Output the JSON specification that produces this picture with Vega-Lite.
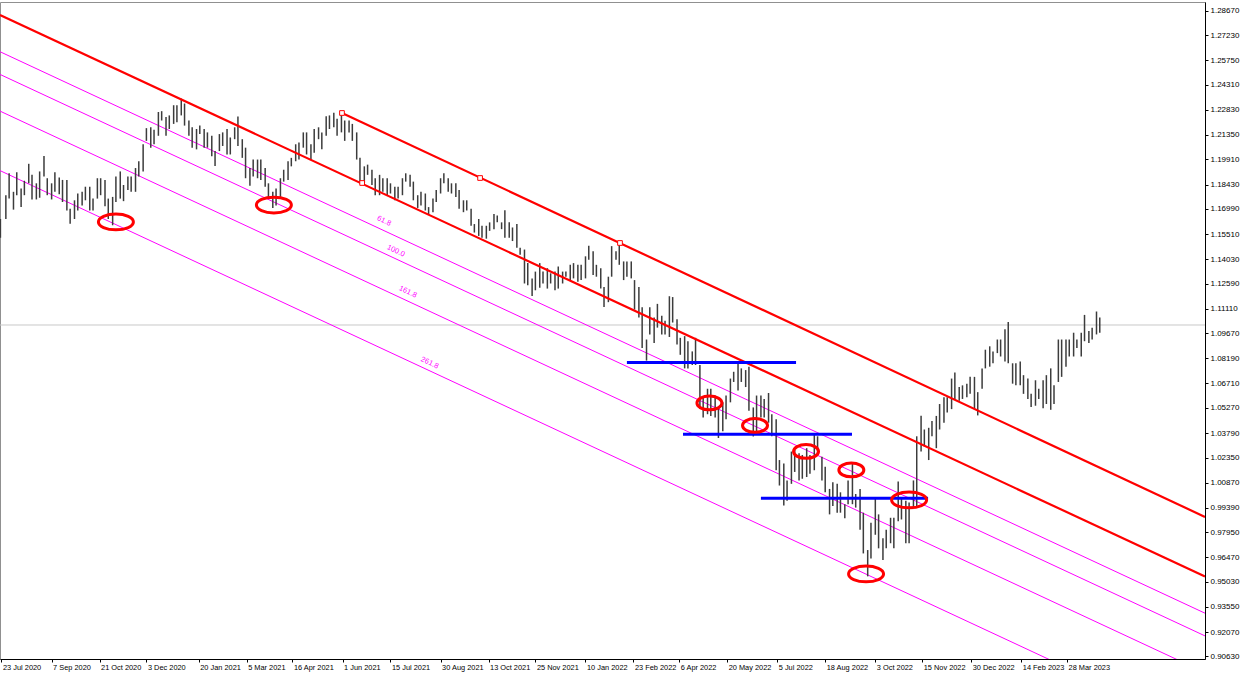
{
"$schema": "https://vega.github.io/schema/vega-lite/v6.json",
"width": 1205, "height": 657,
"autosize": {"type": "none"},
"padding": {"left": 0, "top": 2, "right": 35, "bottom": 17},
"background": "white",
"config": {"view": {"stroke": "#909090", "strokeWidth": 1}, "font": "Liberation Sans"},
"datasets": {
"bars": [
{"t":"2020-07-22","p":1.1530,"p2":1.1640},{"t":"2020-07-27","p":1.1640,"p2":1.1780},{"t":"2020-07-30","p":1.1760,"p2":1.1910},
{"t":"2020-08-03","p":1.1695,"p2":1.1800},{"t":"2020-08-06","p":1.1780,"p2":1.1915},{"t":"2020-08-10","p":1.1710,"p2":1.1820},
{"t":"2020-08-13","p":1.1780,"p2":1.1865},{"t":"2020-08-17","p":1.1850,"p2":1.1965},{"t":"2020-08-20","p":1.1755,"p2":1.1900},
{"t":"2020-08-24","p":1.1755,"p2":1.1850},{"t":"2020-08-27","p":1.1765,"p2":1.1920},{"t":"2020-08-31","p":1.1890,"p2":1.2011},
{"t":"2020-09-03","p":1.1780,"p2":1.1880},{"t":"2020-09-07","p":1.1755,"p2":1.1850},{"t":"2020-09-10","p":1.1800,"p2":1.1915},
{"t":"2020-09-14","p":1.1785,"p2":1.1885},{"t":"2020-09-17","p":1.1740,"p2":1.1870},{"t":"2020-09-21","p":1.1690,"p2":1.1870},
{"t":"2020-09-24","p":1.1612,"p2":1.1700},{"t":"2020-09-28","p":1.1640,"p2":1.1750},{"t":"2020-10-01","p":1.1690,"p2":1.1790},
{"t":"2020-10-05","p":1.1720,"p2":1.1800},{"t":"2020-10-08","p":1.1750,"p2":1.1830},{"t":"2020-10-12","p":1.1690,"p2":1.1830},
{"t":"2020-10-15","p":1.1690,"p2":1.1760},{"t":"2020-10-19","p":1.1760,"p2":1.1880},{"t":"2020-10-22","p":1.1780,"p2":1.1880},
{"t":"2020-10-26","p":1.1715,"p2":1.1870},{"t":"2020-10-29","p":1.1640,"p2":1.1760},{"t":"2020-11-02","p":1.1603,"p2":1.1770},
{"t":"2020-11-05","p":1.1740,"p2":1.1890},{"t":"2020-11-09","p":1.1760,"p2":1.1920},{"t":"2020-11-12","p":1.1745,"p2":1.1840},
{"t":"2020-11-16","p":1.1810,"p2":1.1890},{"t":"2020-11-19","p":1.1800,"p2":1.1890},{"t":"2020-11-23","p":1.1800,"p2":1.1940},
{"t":"2020-11-26","p":1.1890,"p2":1.1980},{"t":"2020-11-30","p":1.1920,"p2":1.2080},{"t":"2020-12-03","p":1.2100,"p2":1.2175},
{"t":"2020-12-07","p":1.2060,"p2":1.2180},{"t":"2020-12-10","p":1.2080,"p2":1.2165},{"t":"2020-12-14","p":1.2130,"p2":1.2270},
{"t":"2020-12-17","p":1.2220,"p2":1.2275},{"t":"2020-12-21","p":1.2130,"p2":1.2240},{"t":"2020-12-24","p":1.2170,"p2":1.2250},
{"t":"2020-12-28","p":1.2200,"p2":1.2310},{"t":"2020-12-31","p":1.2210,"p2":1.2310},
{"t":"2021-01-04","p":1.2250,"p2":1.2349},{"t":"2021-01-07","p":1.2190,"p2":1.2320},{"t":"2021-01-11","p":1.2130,"p2":1.2220},
{"t":"2021-01-14","p":1.2060,"p2":1.2180},{"t":"2021-01-18","p":1.2050,"p2":1.2170},{"t":"2021-01-21","p":1.2140,"p2":1.2190},
{"t":"2021-01-25","p":1.2060,"p2":1.2170},{"t":"2021-01-28","p":1.2060,"p2":1.2150},{"t":"2021-02-01","p":1.2010,"p2":1.2130},
{"t":"2021-02-04","p":1.1952,"p2":1.2040},{"t":"2021-02-08","p":1.2040,"p2":1.2140},{"t":"2021-02-11","p":1.2070,"p2":1.2150},
{"t":"2021-02-15","p":1.2020,"p2":1.2170},{"t":"2021-02-18","p":1.2020,"p2":1.2120},{"t":"2021-02-22","p":1.2110,"p2":1.2180},
{"t":"2021-02-25","p":1.2070,"p2":1.2243},{"t":"2021-03-01","p":1.2000,"p2":1.2110},{"t":"2021-03-04","p":1.1880,"p2":1.2060},
{"t":"2021-03-08","p":1.1835,"p2":1.1940},{"t":"2021-03-11","p":1.1890,"p2":1.1990},{"t":"2021-03-15","p":1.1880,"p2":1.1990},
{"t":"2021-03-18","p":1.1870,"p2":1.1990},{"t":"2021-03-22","p":1.1830,"p2":1.1940},{"t":"2021-03-25","p":1.1760,"p2":1.1850},
{"t":"2021-03-29","p":1.1704,"p2":1.1800},{"t":"2021-04-01","p":1.1720,"p2":1.1820},{"t":"2021-04-05","p":1.1760,"p2":1.1880},
{"t":"2021-04-08","p":1.1860,"p2":1.1930},{"t":"2021-04-12","p":1.1870,"p2":1.1980},{"t":"2021-04-15","p":1.1950,"p2":1.2000},
{"t":"2021-04-19","p":1.1980,"p2":1.2080},{"t":"2021-04-22","p":1.1990,"p2":1.2090},{"t":"2021-04-26","p":1.2060,"p2":1.2150},
{"t":"2021-04-29","p":1.2020,"p2":1.2150},{"t":"2021-05-03","p":1.1990,"p2":1.2080},{"t":"2021-05-06","p":1.2030,"p2":1.2170},
{"t":"2021-05-10","p":1.2110,"p2":1.2180},{"t":"2021-05-13","p":1.2050,"p2":1.2150},{"t":"2021-05-17","p":1.2130,"p2":1.2245},
{"t":"2021-05-20","p":1.2170,"p2":1.2250},{"t":"2021-05-24","p":1.2180,"p2":1.2266},{"t":"2021-05-27","p":1.2130,"p2":1.2230},
{"t":"2021-05-31","p":1.2150,"p2":1.2250},{"t":"2021-06-03","p":1.2100,"p2":1.2220},{"t":"2021-06-07","p":1.2150,"p2":1.2220},
{"t":"2021-06-10","p":1.2100,"p2":1.2200},{"t":"2021-06-14","p":1.1990,"p2":1.2150},{"t":"2021-06-17","p":1.1850,"p2":1.2000},
{"t":"2021-06-21","p":1.1850,"p2":1.1950},{"t":"2021-06-24","p":1.1900,"p2":1.1960},{"t":"2021-06-28","p":1.1840,"p2":1.1930},
{"t":"2021-07-01","p":1.1780,"p2":1.1880},{"t":"2021-07-05","p":1.1780,"p2":1.1900},{"t":"2021-07-08","p":1.1800,"p2":1.1880},
{"t":"2021-07-12","p":1.1780,"p2":1.1880},{"t":"2021-07-15","p":1.1790,"p2":1.1850},{"t":"2021-07-19","p":1.1750,"p2":1.1830},
{"t":"2021-07-22","p":1.1760,"p2":1.1830},{"t":"2021-07-26","p":1.1780,"p2":1.1880},{"t":"2021-07-29","p":1.1860,"p2":1.1909},
{"t":"2021-08-02","p":1.1830,"p2":1.1900},{"t":"2021-08-05","p":1.1750,"p2":1.1860},{"t":"2021-08-09","p":1.1705,"p2":1.1780},
{"t":"2021-08-12","p":1.1720,"p2":1.1800},{"t":"2021-08-16","p":1.1690,"p2":1.1790},{"t":"2021-08-19","p":1.1664,"p2":1.1710},
{"t":"2021-08-23","p":1.1680,"p2":1.1760},{"t":"2021-08-26","p":1.1740,"p2":1.1810},{"t":"2021-08-30","p":1.1790,"p2":1.1880},
{"t":"2021-09-02","p":1.1850,"p2":1.1909},{"t":"2021-09-06","p":1.1800,"p2":1.1880},{"t":"2021-09-09","p":1.1790,"p2":1.1850},
{"t":"2021-09-13","p":1.1770,"p2":1.1850},{"t":"2021-09-16","p":1.1700,"p2":1.1810},{"t":"2021-09-20","p":1.1680,"p2":1.1750},
{"t":"2021-09-23","p":1.1690,"p2":1.1750},{"t":"2021-09-27","p":1.1600,"p2":1.1700},{"t":"2021-09-30","p":1.1560,"p2":1.1610},
{"t":"2021-10-04","p":1.1540,"p2":1.1640},{"t":"2021-10-07","p":1.1530,"p2":1.1600},{"t":"2021-10-11","p":1.1524,"p2":1.1600},
{"t":"2021-10-14","p":1.1570,"p2":1.1620},{"t":"2021-10-18","p":1.1580,"p2":1.1670},{"t":"2021-10-21","p":1.1620,"p2":1.1660},
{"t":"2021-10-25","p":1.1580,"p2":1.1620},{"t":"2021-10-28","p":1.1530,"p2":1.1692},{"t":"2021-11-01","p":1.1530,"p2":1.1620},
{"t":"2021-11-04","p":1.1510,"p2":1.1590},{"t":"2021-11-08","p":1.1470,"p2":1.1610},{"t":"2021-11-11","p":1.1430,"p2":1.1470},
{"t":"2021-11-15","p":1.1260,"p2":1.1460},{"t":"2021-11-18","p":1.1250,"p2":1.1380},{"t":"2021-11-22","p":1.1186,"p2":1.1290},
{"t":"2021-11-25","p":1.1220,"p2":1.1330},{"t":"2021-11-29","p":1.1235,"p2":1.1380},{"t":"2021-12-02","p":1.1260,"p2":1.1330},
{"t":"2021-12-06","p":1.1230,"p2":1.1350},{"t":"2021-12-09","p":1.1260,"p2":1.1320},{"t":"2021-12-13","p":1.1220,"p2":1.1330},
{"t":"2021-12-16","p":1.1230,"p2":1.1360},{"t":"2021-12-20","p":1.1260,"p2":1.1330},{"t":"2021-12-23","p":1.1300,"p2":1.1330},
{"t":"2021-12-27","p":1.1280,"p2":1.1370},{"t":"2021-12-30","p":1.1290,"p2":1.1380},
{"t":"2022-01-03","p":1.1270,"p2":1.1370},{"t":"2022-01-06","p":1.1280,"p2":1.1370},{"t":"2022-01-10","p":1.1290,"p2":1.1420},
{"t":"2022-01-13","p":1.1400,"p2":1.1482},{"t":"2022-01-17","p":1.1310,"p2":1.1450},{"t":"2022-01-20","p":1.1300,"p2":1.1370},
{"t":"2022-01-24","p":1.1230,"p2":1.1350},{"t":"2022-01-27","p":1.1121,"p2":1.1240},{"t":"2022-01-31","p":1.1150,"p2":1.1300},
{"t":"2022-02-03","p":1.1300,"p2":1.1480},{"t":"2022-02-07","p":1.1400,"p2":1.1450},{"t":"2022-02-10","p":1.1370,"p2":1.1495},
{"t":"2022-02-14","p":1.1280,"p2":1.1390},{"t":"2022-02-17","p":1.1300,"p2":1.1390},{"t":"2022-02-21","p":1.1290,"p2":1.1390},
{"t":"2022-02-24","p":1.1106,"p2":1.1280},{"t":"2022-02-28","p":1.1060,"p2":1.1240},{"t":"2022-03-03","p":1.0880,"p2":1.1120},
{"t":"2022-03-07","p":1.0806,"p2":1.0930},{"t":"2022-03-10","p":1.0960,"p2":1.1120},{"t":"2022-03-14","p":1.0910,"p2":1.1060},
{"t":"2022-03-17","p":1.1000,"p2":1.1140},{"t":"2022-03-21","p":1.0960,"p2":1.1070},{"t":"2022-03-24","p":1.0960,"p2":1.1040},
{"t":"2022-03-28","p":1.0945,"p2":1.1185},{"t":"2022-03-31","p":1.1030,"p2":1.1180},{"t":"2022-04-04","p":1.0900,"p2":1.1050},
{"t":"2022-04-07","p":1.0840,"p2":1.0940},{"t":"2022-04-11","p":1.0760,"p2":1.0950},{"t":"2022-04-14","p":1.0760,"p2":1.0920},
{"t":"2022-04-18","p":1.0780,"p2":1.0860},{"t":"2022-04-21","p":1.0780,"p2":1.0940},{"t":"2022-04-25","p":1.0520,"p2":1.0780},
{"t":"2022-04-28","p":1.0471,"p2":1.0590},{"t":"2022-05-02","p":1.0490,"p2":1.0640},{"t":"2022-05-05","p":1.0480,"p2":1.0640},
{"t":"2022-05-09","p":1.0470,"p2":1.0600},{"t":"2022-05-12","p":1.0350,"p2":1.0530},{"t":"2022-05-16","p":1.0390,"p2":1.0560},
{"t":"2022-05-19","p":1.0460,"p2":1.0600},{"t":"2022-05-23","p":1.0560,"p2":1.0700},{"t":"2022-05-26","p":1.0680,"p2":1.0740},
{"t":"2022-05-30","p":1.0630,"p2":1.0787},{"t":"2022-06-02","p":1.0680,"p2":1.0760},{"t":"2022-06-06","p":1.0650,"p2":1.0750},
{"t":"2022-06-09","p":1.0510,"p2":1.0770},{"t":"2022-06-13","p":1.0359,"p2":1.0530},{"t":"2022-06-16","p":1.0390,"p2":1.0600},
{"t":"2022-06-20","p":1.0470,"p2":1.0600},{"t":"2022-06-23","p":1.0470,"p2":1.0580},{"t":"2022-06-27","p":1.0440,"p2":1.0615},
{"t":"2022-06-30","p":1.0360,"p2":1.0490},{"t":"2022-07-04","p":1.0160,"p2":1.0460},{"t":"2022-07-07","p":1.0070,"p2":1.0220},
{"t":"2022-07-11","p":0.9952,"p2":1.0200},{"t":"2022-07-14","p":0.9980,"p2":1.0100},{"t":"2022-07-18","p":1.0080,"p2":1.0270},
{"t":"2022-07-21","p":1.0150,"p2":1.0280},{"t":"2022-07-25","p":1.0100,"p2":1.0260},{"t":"2022-07-28","p":1.0110,"p2":1.0250},
{"t":"2022-08-01","p":1.0120,"p2":1.0290},{"t":"2022-08-04","p":1.0140,"p2":1.0250},{"t":"2022-08-08","p":1.0160,"p2":1.0368},
{"t":"2022-08-11","p":1.0250,"p2":1.0360},{"t":"2022-08-15","p":1.0100,"p2":1.0240},{"t":"2022-08-18","p":1.0030,"p2":1.0180},
{"t":"2022-08-22","p":0.9900,"p2":1.0050},{"t":"2022-08-25","p":0.9950,"p2":1.0090},{"t":"2022-08-29","p":0.9910,"p2":1.0080},
{"t":"2022-09-01","p":0.9910,"p2":1.0030},{"t":"2022-09-05","p":0.9877,"p2":0.9960},{"t":"2022-09-08","p":0.9960,"p2":1.0100},
{"t":"2022-09-12","p":0.9960,"p2":1.0198},{"t":"2022-09-15","p":0.9940,"p2":1.0020},{"t":"2022-09-19","p":0.9810,"p2":1.0050},
{"t":"2022-09-22","p":0.9670,"p2":0.9910},{"t":"2022-09-26","p":0.9535,"p2":0.9690},{"t":"2022-09-29","p":0.9640,"p2":0.9850},
{"t":"2022-10-03","p":0.9780,"p2":0.9999},{"t":"2022-10-06","p":0.9700,"p2":0.9900},{"t":"2022-10-10","p":0.9632,"p2":0.9760},
{"t":"2022-10-13","p":0.9700,"p2":0.9810},{"t":"2022-10-17","p":0.9730,"p2":0.9880},{"t":"2022-10-20","p":0.9700,"p2":0.9880},
{"t":"2022-10-24","p":0.9860,"p2":1.0094},{"t":"2022-10-27","p":0.9870,"p2":1.0000},{"t":"2022-10-31","p":0.9730,"p2":0.9980},
{"t":"2022-11-03","p":0.9730,"p2":0.9970},{"t":"2022-11-07","p":0.9940,"p2":1.0100},{"t":"2022-11-10","p":0.9940,"p2":1.0360},
{"t":"2022-11-14","p":1.0270,"p2":1.0481},{"t":"2022-11-17","p":1.0300,"p2":1.0400},{"t":"2022-11-21","p":1.0220,"p2":1.0410},
{"t":"2022-11-24","p":1.0360,"p2":1.0450},{"t":"2022-11-28","p":1.0290,"p2":1.0480},{"t":"2022-12-01","p":1.0400,"p2":1.0550},
{"t":"2022-12-05","p":1.0440,"p2":1.0590},{"t":"2022-12-08","p":1.0500,"p2":1.0590},{"t":"2022-12-12","p":1.0520,"p2":1.0700},
{"t":"2022-12-15","p":1.0580,"p2":1.0736},{"t":"2022-12-19","p":1.0570,"p2":1.0650},{"t":"2022-12-22","p":1.0580,"p2":1.0660},
{"t":"2022-12-26","p":1.0590,"p2":1.0670},{"t":"2022-12-29","p":1.0610,"p2":1.0710},
{"t":"2023-01-02","p":1.0520,"p2":1.0710},{"t":"2023-01-05","p":1.0483,"p2":1.0620},{"t":"2023-01-09","p":1.0640,"p2":1.0760},
{"t":"2023-01-12","p":1.0760,"p2":1.0870},{"t":"2023-01-16","p":1.0770,"p2":1.0890},{"t":"2023-01-19","p":1.0790,"p2":1.0860},
{"t":"2023-01-23","p":1.0850,"p2":1.0930},{"t":"2023-01-26","p":1.0830,"p2":1.0930},{"t":"2023-01-30","p":1.0800,"p2":1.0990},
{"t":"2023-02-02","p":1.0790,"p2":1.1033},{"t":"2023-02-06","p":1.0670,"p2":1.0790},{"t":"2023-02-09","p":1.0660,"p2":1.0790},
{"t":"2023-02-13","p":1.0660,"p2":1.0800},{"t":"2023-02-16","p":1.0610,"p2":1.0720},{"t":"2023-02-20","p":1.0580,"p2":1.0700},
{"t":"2023-02-23","p":1.0533,"p2":1.0610},{"t":"2023-02-27","p":1.0540,"p2":1.0690},{"t":"2023-03-02","p":1.0580,"p2":1.0640},
{"t":"2023-03-06","p":1.0525,"p2":1.0690},{"t":"2023-03-09","p":1.0550,"p2":1.0720},{"t":"2023-03-13","p":1.0516,"p2":1.0760},
{"t":"2023-03-16","p":1.0550,"p2":1.0660},{"t":"2023-03-20","p":1.0680,"p2":1.0930},{"t":"2023-03-23","p":1.0710,"p2":1.0930},
{"t":"2023-03-27","p":1.0770,"p2":1.0930},{"t":"2023-03-30","p":1.0830,"p2":1.0930},{"t":"2023-04-03","p":1.0830,"p2":1.0970},
{"t":"2023-04-06","p":1.0880,"p2":1.0930},{"t":"2023-04-10","p":1.0830,"p2":1.0970},{"t":"2023-04-13","p":1.0920,"p2":1.1075},
{"t":"2023-04-17","p":1.0910,"p2":1.0980},{"t":"2023-04-20","p":1.0930,"p2":1.1000},{"t":"2023-04-24","p":1.0960,"p2":1.1095},
{"t":"2023-04-27","p":1.0970,"p2":1.1060}
],
"current": [{"t":"2020-07-21T15:00:00","p":1.10155},{"t":"2023-08-01T14:00:00","p":1.10155}],
"channel": [
{"k":"A","t":"2020-07-21T15:00:00","p":1.28414},{"k":"A","t":"2023-08-01T14:00:00","p":0.95342},
{"k":"B","t":"2021-05-31T12:00:00","p":1.22642},{"k":"B","t":"2023-08-01T14:00:00","p":0.98850}
],
"anchors": [
{"t":"2021-05-31T12:00:00","p":1.22642},{"t":"2021-10-05T06:00:00","p":1.18813},
{"t":"2022-02-10T16:00:00","p":1.14985},{"t":"2021-06-19T00:00:00","p":1.18519}
],
"fib": [
{"k":"61.8","t":"2020-07-21T15:00:00","p":1.26252},{"k":"61.8","t":"2023-08-01T14:00:00","p":0.93180},
{"k":"100.0","t":"2020-07-21T15:00:00","p":1.24915},{"k":"100.0","t":"2023-08-01T14:00:00","p":0.91843},
{"k":"161.8","t":"2020-07-21T15:00:00","p":1.22754},{"k":"161.8","t":"2023-08-01T14:00:00","p":0.89682},
{"k":"261.8","t":"2020-07-21T15:00:00","p":1.19249},{"k":"261.8","t":"2023-08-01T14:00:00","p":0.86177}
],
"fibText": [
{"s":"61.8","t":"2021-07-09","p":1.16281},{"s":"100.0","t":"2021-07-20","p":1.14514},
{"s":"161.8","t":"2021-07-31","p":1.12099},{"s":"261.8","t":"2021-08-20","p":1.07917}
],
"levels": [
{"t":"2022-02-17T00:00:00","t2":"2022-07-22T06:00:00","p":1.07946},
{"t":"2022-04-09T12:00:00","t2":"2022-09-11T14:00:00","p":1.03717},
{"t":"2022-06-20T00:00:00","t2":"2022-11-20T10:00:00","p":0.99948}
],
"ovalsBig": [
{"t":"2020-11-05","p":1.16222},{"t":"2021-03-30","p":1.17223},
{"t":"2022-11-03","p":0.99848},{"t":"2022-09-24T12:00:00","p":0.95489}
],
"ovalsSmall": [
{"t":"2022-05-03T18:00:00","p":1.05561},{"t":"2022-06-14T14:00:00","p":1.04236},
{"t":"2022-07-31T10:00:00","p":1.02704},{"t":"2022-09-11T00:00:00","p":1.01615}
]
},
"encoding": {
"x": {"field": "t", "type": "temporal",
 "scale": {"domain": [{"year":2020,"month":7,"date":21,"hours":15},{"year":2023,"month":8,"date":1,"hours":14}], "nice": false},
 "axis": {"values": [
  {"year":2020,"month":7,"date":23},{"year":2020,"month":9,"date":7},{"year":2020,"month":10,"date":21},{"year":2020,"month":12,"date":3},
  {"year":2021,"month":1,"date":20},{"year":2021,"month":3,"date":5},{"year":2021,"month":4,"date":16},{"year":2021,"month":6,"date":1},
  {"year":2021,"month":7,"date":15},{"year":2021,"month":8,"date":30},{"year":2021,"month":10,"date":13},{"year":2021,"month":11,"date":25},
  {"year":2022,"month":1,"date":10},{"year":2022,"month":2,"date":23},{"year":2022,"month":4,"date":6},{"year":2022,"month":5,"date":20},
  {"year":2022,"month":7,"date":5},{"year":2022,"month":8,"date":18},{"year":2022,"month":10,"date":3},{"year":2022,"month":11,"date":15},
  {"year":2022,"month":12,"date":30},{"year":2023,"month":2,"date":14},{"year":2023,"month":3,"date":28}],
  "format": "%-d %b %Y", "labelAlign": "left", "labelOffset": 1, "labelPadding": 1, "tickSize": 3,
  "labelFontSize": 7.4, "labelFont": "Liberation Sans", "labelColor": "#000000", "domainColor": "#000000", "tickColor": "#000000",
  "grid": false, "title": null, "labelOverlap": false, "labelFlush": false}},
"y": {"field": "p", "type": "quantitative",
 "scale": {"domain": [0.90482, 1.2918], "zero": false, "nice": false},
 "axis": {"orient": "right", "values": [1.2867,1.2723,1.2575,1.2431,1.2283,1.2135,1.1991,1.1843,1.1699,1.1551,1.1403,1.1259,1.1111,1.0967,1.0819,1.0671,1.0527,1.0379,1.0235,1.0087,0.9939,0.9795,0.9647,0.9503,0.9355,0.9207,0.9063],
  "format": ".5f", "tickSize": 3, "labelPadding": 2, "labelFontSize": 8, "labelFont": "Liberation Sans", "labelColor": "#000000",
  "domainColor": "#000000", "tickColor": "#000000", "grid": false, "title": null, "labelOverlap": false, "labelFlush": false}}
},
"layer": [
{"data": {"name": "current"}, "mark": {"type": "line", "color": "#c8c8c8", "strokeWidth": 1, "clip": true}, "encoding": {}},
{"data": {"name": "fib"}, "mark": {"type": "line", "color": "#ff00ff", "strokeWidth": 1, "clip": true}, "encoding": {"detail": {"field": "k"}}},
{"data": {"name": "bars"}, "mark": {"type": "rule", "color": "#3c3c3c", "strokeWidth": 1.5, "clip": true}, "encoding": {"y2": {"field": "p2"}}},
{"data": {"name": "channel"}, "mark": {"type": "line", "color": "#ff0000", "strokeWidth": 2.2, "clip": true}, "encoding": {"detail": {"field": "k"}}},
{"data": {"name": "anchors"}, "mark": {"type": "point", "shape": "square", "size": 22, "filled": true, "fill": "#ffffff", "stroke": "#ff0000", "strokeWidth": 1, "opacity": 1}, "encoding": {}},
{"data": {"name": "levels"}, "mark": {"type": "rule", "color": "#0000ff", "strokeWidth": 3}, "encoding": {"x2": {"field": "t2"}}},
{"data": {"name": "ovalsBig"}, "mark": {"type": "point", "shape": "M-1,0C-1,-0.2485,-0.5523,-0.45,0,-0.45C0.5523,-0.45,1,-0.2485,1,0C1,0.2485,0.5523,0.45,0,0.45C-0.5523,0.45,-1,0.2485,-1,0Z", "size": 1225, "filled": false, "color": "#ff0000", "strokeWidth": 3, "opacity": 1}, "encoding": {}},
{"data": {"name": "ovalsSmall"}, "mark": {"type": "point", "shape": "M-1,0C-1,-0.3038,-0.5523,-0.55,0,-0.55C0.5523,-0.55,1,-0.3038,1,0C1,0.3038,0.5523,0.55,0,0.55C-0.5523,0.55,-1,0.3038,-1,0Z", "size": 625, "filled": false, "color": "#ff0000", "strokeWidth": 3, "opacity": 1}, "encoding": {}},
{"data": {"name": "fibText"}, "mark": {"type": "text", "color": "#ff00ff", "fontSize": 7.5, "angle": 25, "align": "center", "baseline": "middle", "font": "Liberation Sans"}, "encoding": {"text": {"field": "s"}}},
{"data": {"values": [{}]}, "mark": {"type": "point", "shape": "M0,-0.2H1.07V0.2H0Z", "size": 3600, "filled": true, "color": "#000000", "opacity": 1, "strokeWidth": 0},
 "encoding": {"x": {"datum": {"year":2023,"month":8,"date":1,"hours":14}, "type": "temporal"}, "y": {"datum": 1.10155, "type": "quantitative"}}},
{"data": {"values": [{}]}, "mark": {"type": "text", "color": "#ffffff", "fontSize": 8, "align": "left", "baseline": "middle", "dx": 3, "font": "Liberation Sans"},
 "encoding": {"x": {"datum": {"year":2023,"month":8,"date":1,"hours":14}, "type": "temporal"}, "y": {"datum": 1.10155, "type": "quantitative"}, "text": {"value": "1.10155"}}},
{"data": {"values": [{}]}, "mark": {"type": "text", "color": "#000000", "fontSize": 6, "align": "left", "baseline": "middle", "dx": 4, "font": "DejaVu Sans"},
 "encoding": {"x": {"datum": {"year":2020,"month":7,"date":21,"hours":15}, "type": "temporal"}, "y": {"datum": 1.2883, "type": "quantitative"}, "text": {"value": "▼"}}},
{"data": {"values": [{}]}, "mark": {"type": "text", "color": "#000000", "fontSize": 8.5, "align": "left", "baseline": "middle", "dx": 14, "font": "Liberation Sans"},
 "encoding": {"x": {"datum": {"year":2020,"month":7,"date":21,"hours":15}, "type": "temporal"}, "y": {"datum": 1.2883, "type": "quantitative"}, "text": {"value": "EURUSDmicro,Daily"}}}
]
}
